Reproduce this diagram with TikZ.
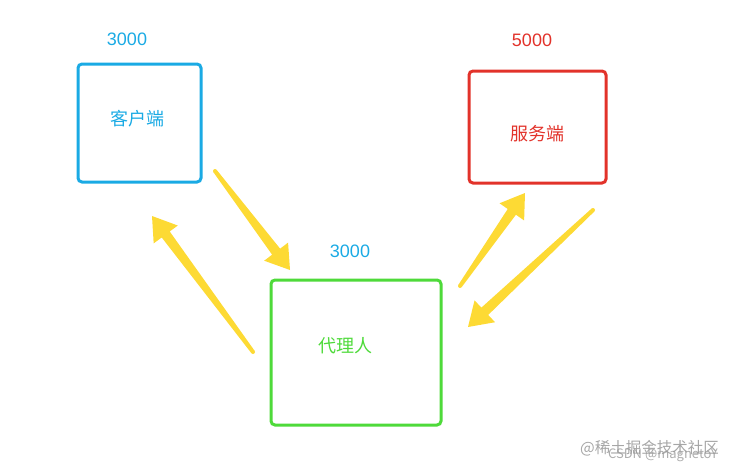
\documentclass[tikz,border=0pt]{standalone}
\usepackage{fontspec}
\newfontfamily\cjk{Noto Sans CJK SC}
\newfontfamily\digits{Liberation Sans}
\usepackage{tikz}
\usetikzlibrary{calc,positioning}

\definecolor{portblue}{RGB}{26,170,228}
\definecolor{boxred}{RGB}{226,50,42}
\definecolor{boxgreen}{RGB}{78,218,58}
\definecolor{arrowyellow}{RGB}{253,218,52}

% tapered arrow from tail #1 to tip #2
\newcommand\fatarrow[2]{%
  \coordinate (hb) at ($(#2)!23pt!(#1)$);
  \fill[arrowyellow] ($(#1)!2pt!90:(#2)$) -- ($(hb)!5pt!90:(#2)$)
    -- ($(hb)!15pt!90:(#2)$) -- (#2) -- ($(hb)!15pt!-90:(#2)$)
    -- ($(hb)!5pt!-90:(#2)$) -- ($(#1)!2pt!-90:(#2)$) -- cycle;
  \fill[arrowyellow] (#1) circle (2pt);
}

\begin{document}
\begin{tikzpicture}[
    x=1pt, y=-1pt,
    mybox/.style={draw, line width=3pt, rounded corners=4pt, fill=none},
    mylabel/.style={font=\cjk\fontsize{18}{18}\selectfont, inner sep=0pt},
    myport/.style={font=\digits\fontsize{18}{18}\selectfont, inner sep=0pt, text=portblue},
    mymark/.style={font=\cjk\fontsize{#1}{#1}\selectfont, inner sep=0pt, anchor=east}
]
\useasboundingbox (0,0) rectangle (733,471);

% boxes
\node[mybox, draw=portblue, minimum width=123pt, minimum height=118pt] (client) at (139.5,123) {};
\node[mybox, draw=boxred, minimum width=137pt, minimum height=112pt] (server) at (537.5,127) {};
\node[mybox, draw=boxgreen, minimum width=170pt, minimum height=145pt] (proxy) at (356,352.5) {};

\node[mylabel, text=portblue] (clientname) at (137,119) {客户端};
\node[mylabel, text=boxred] (servername) at (537,134) {服务端};
\node[mylabel, text=boxgreen] (proxyname) at (345,346) {代理人};

\node[myport] (clientport) at (127,39) {3000};
\node[myport, text=boxred] (serverport) at (532,40) {5000};
\node[myport] (proxyport) at (350,251) {3000};

% arrows
\coordinate (c2p) at (215,171);
\coordinate (c2pend) at (290,270);
\coordinate (p2c) at (253,352);
\coordinate (p2cend) at (152,216);
\coordinate (p2s) at (460,286);
\coordinate (p2send) at (525,193);
\coordinate (s2p) at (593,210);
\coordinate (s2pend) at (468,327);
\fatarrow{c2p}{c2pend}
\fatarrow{p2c}{p2cend}
\fatarrow{p2s}{p2send}
\fatarrow{s2p}{s2pend}

% watermark
\node[mymark=15.5, text=gray!70] (mark1) at (719,448) {@稀土掘金技术社区};
\node[mymark=13, text=gray!80, opacity=0.8] (mark2) at (718,455) {CSDN @magnetoY};
\end{tikzpicture}
\end{document}
